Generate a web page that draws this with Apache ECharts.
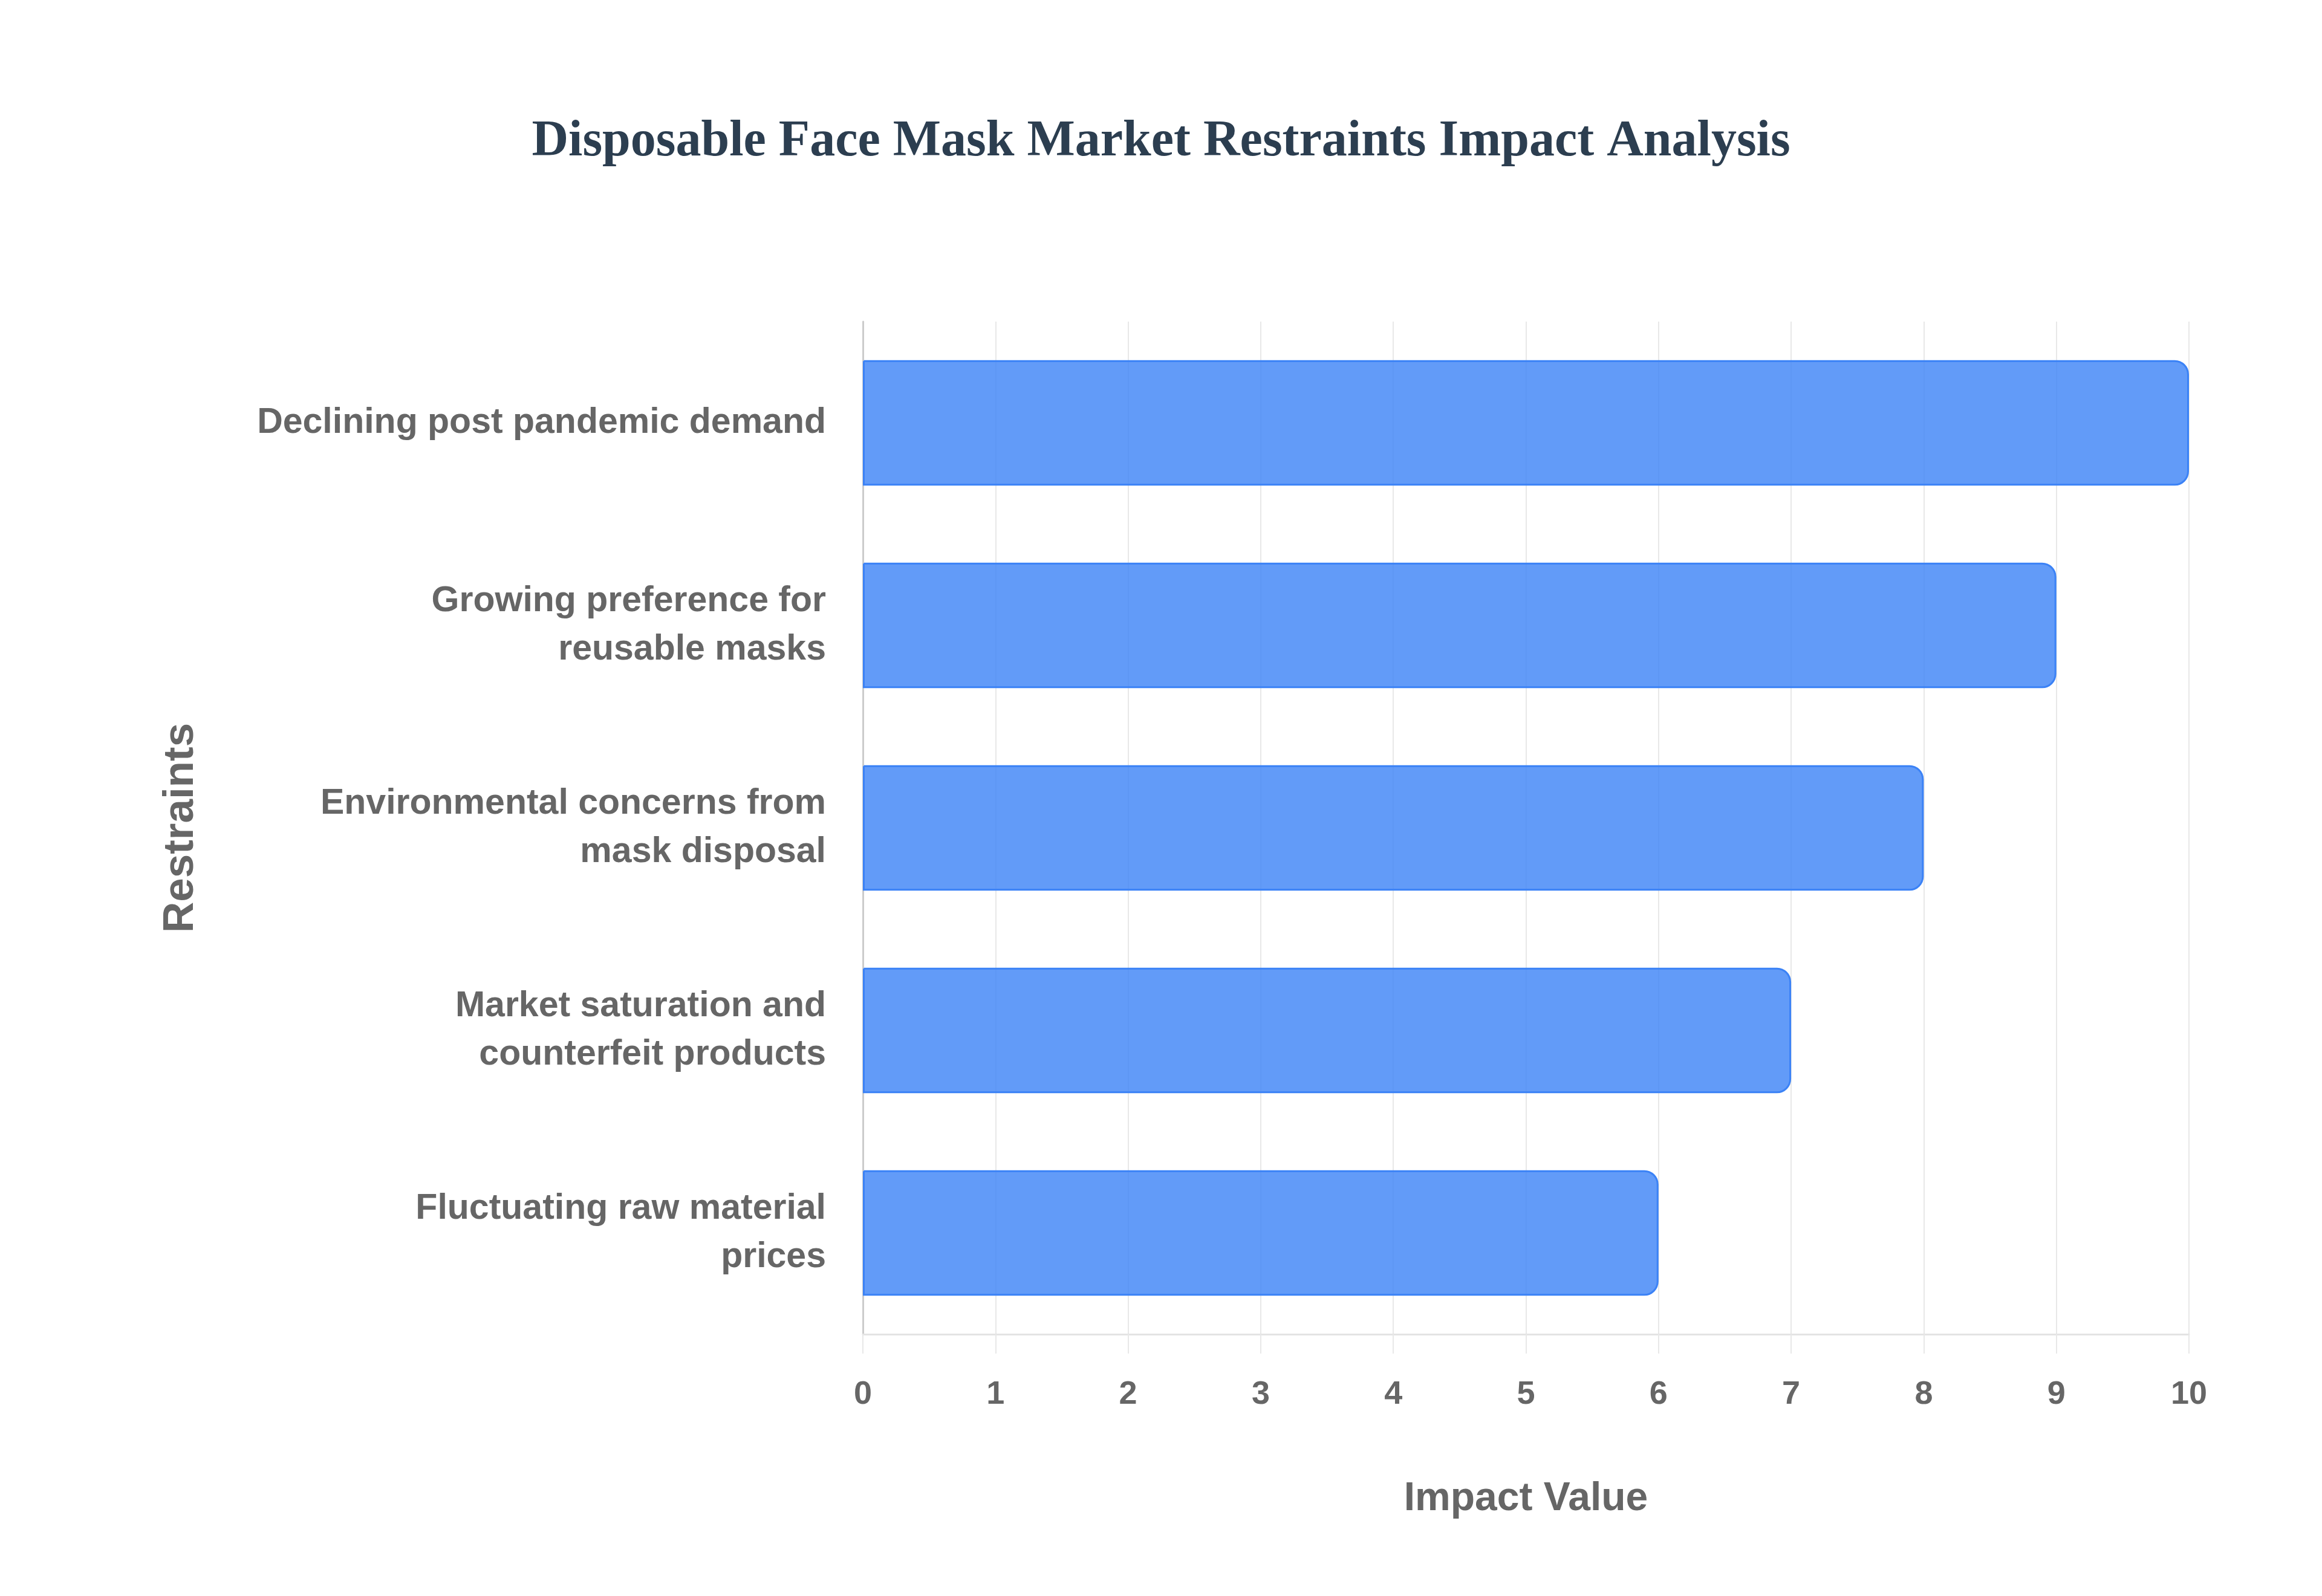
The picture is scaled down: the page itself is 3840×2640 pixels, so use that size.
<!DOCTYPE html>
<html>
<head>
<meta charset="utf-8">
<script src="https://cdn.jsdelivr.net/npm/echarts@6/dist/echarts.min.js"></script>
<style>
html,body{margin:0;padding:0;background:#fff;}
#chart{width:3840px;height:2640px;}
</style>
</head>
<body>
<div id="chart"></div>
<script>
const titleText = "Disposable Face Mask Market Restraints Impact Analysis";
const categories = [
  "Declining post pandemic demand",
  "Growing preference for\nreusable masks",
  "Environmental concerns from\nmask disposal",
  "Market saturation and\ncounterfeit products",
  "Fluctuating raw material\nprices"
];
const impactValues = [10, 9, 8, 7, 6];
const xAxisName = "Impact Value";
const yAxisName = "Restraints";

const chart = echarts.init(document.getElementById('chart'));
chart.setOption({
  backgroundColor: '#ffffff',
  animation: false,
  title: {
    text: titleText,
    left: 'center',
    top: 188,
    textStyle: {
      fontFamily: 'Liberation Serif',
      fontWeight: 'bold',
      fontSize: 84,
      color: '#2c3e50'
    }
  },
  grid: { left: 1427, right: 220, top: 532, bottom: 433, containLabel: false },
  xAxis: {
    type: 'value',
    min: 0,
    max: 10,
    interval: 1,
    name: xAxisName,
    nameLocation: 'middle',
    nameGap: 240,
    nameTextStyle: { fontFamily: 'Liberation Sans', fontWeight: 'bold', fontSize: 66, color: '#666666' },
    axisLine: { show: true, lineStyle: { color: '#e4e4e4', width: 3 } },
    axisTick: { show: true, length: 32, lineStyle: { color: '#e8e8e8', width: 2 } },
    axisLabel: { margin: 73, fontFamily: 'Liberation Sans', fontWeight: 'bold', fontSize: 54, color: '#666666' },
    splitLine: { show: true, lineStyle: { color: '#e8e8e8', width: 2 } }
  },
  yAxis: {
    type: 'category',
    data: categories,
    inverse: true,
    name: yAxisName,
    nameLocation: 'middle',
    nameGap: 1092,
    nameTextStyle: { fontFamily: 'Liberation Sans', fontWeight: 'bold', fontSize: 71, color: '#666666' },
    axisLine: { show: true, lineStyle: { color: '#cccccc', width: 3 } },
    axisTick: { show: false },
    axisLabel: { margin: 61, fontFamily: 'Liberation Sans', fontWeight: 'bold', fontSize: 59, lineHeight: 80, color: '#666666' },
    splitLine: { show: false }
  },
  series: [{
    type: 'bar',
    data: impactValues,
    barCategoryGap: '38%',
    itemStyle: {
      color: 'rgba(59,130,246,0.8)',
      borderColor: '#3b82f6',
      borderWidth: 3,
      borderRadius: [0, 22, 22, 0]
    }
  }]
});
</script>
</body>
</html>
